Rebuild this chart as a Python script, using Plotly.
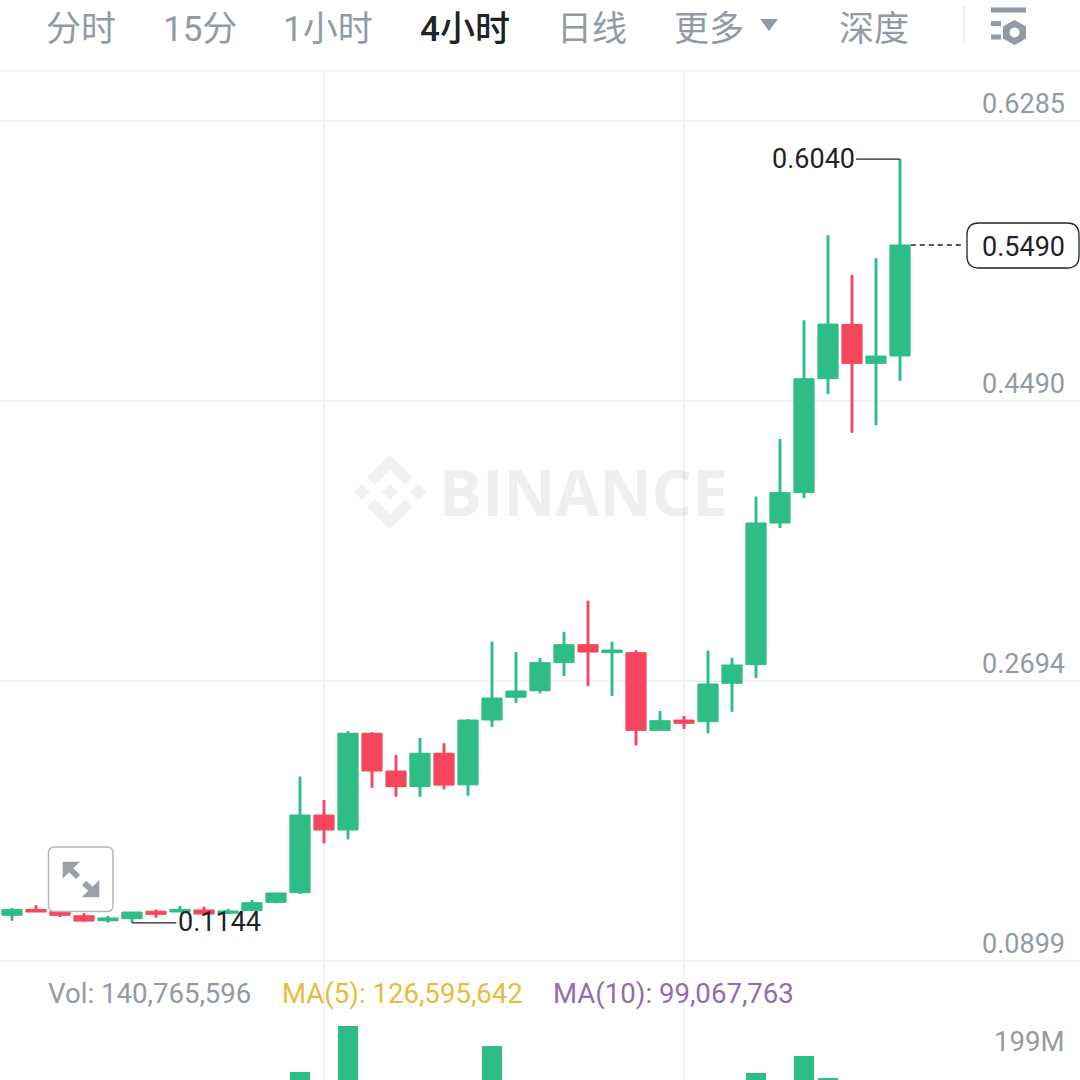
import plotly.graph_objects as go

# ---- data ----
opens = [.1192,.1230,.1218,.1189,.1157,.1170,.1218,.1213,.1226,.1205,.1222,.1275,.1337,.1835,.1739,.2359,.2117,.2017,.2231,.2029,
         .2444,.2590,.2632,.2812,.2927,.2876,.2876,.2378,.2444,.2433,.2680,.2799,.3707,.3902,.4633,.4981,.4731,.4778]
closes = [.1230,.1213,.1192,.1155,.1175,.1213,.1198,.1230,.1200,.1220,.1273,.1335,.1835,.1739,.2359,.2117,.2017,.2231,.2027,.2444,
          .2585,.2630,.2812,.2927,.2880,.2893,.2378,.2440,.2423,.2675,.2797,.3707,.3902,.4633,.4983,.4731,.4778,.5490]
highs = [.1239,.1256,.1218,.1205,.1188,.1213,.1228,.1252,.1247,.1232,.1290,.1335,.2081,.1931,.2372,.2365,.2220,.2329,.2295,.2449,
         .2946,.2880,.2842,.3010,.3209,.2946,.2891,.2502,.2470,.2889,.2842,.3876,.4246,.5007,.5552,.5298,.5405,.6040]
lows = [.1157,.1213,.1181,.1152,.1145,.1144,.1177,.1213,.1188,.1200,.1222,.1269,.1329,.1654,.1679,.2010,.1952,.1952,.2000,.1959,
        .2399,.2555,.2615,.2726,.2662,.2598,.2282,.2378,.2387,.2359,.2497,.2714,.3675,.3868,.4535,.4286,.4334,.4620]
candle_idx = list(range(len(opens)))

vol_idx = [12, 14, 20, 31, 33, 34, 37]
vol_values = [158e6, 219e6, 192e6, 156e6, 179e6, 150e6, 140765596]

price_ticks = [0.0899, 0.2694, 0.4490, 0.6285]
price_labels = ["0.0899", "0.2694", "0.4490", "0.6285"]
grid_idx = [13, 28]
last_price = 0.5490
max_price = 0.6040
min_price = 0.1144
tabs = ["分时", "15分", "1小时", "4小时", "日线", "更多", "深度"]
vol_caption = "Vol: 140,765,596"
ma5_caption = "MA(5): 126,595,642"
ma10_caption = "MA(10): 99,067,763"
vol_axis_label = "199M"

# ---- styling ----
UP, DOWN = "#2EBD85", "#F6465D"
GRID, GRAY, DARK = "#F1F2F3", "#929AA5", "#1E2329"
FONT = "Roboto, 'Noto Sans CJK SC', sans-serif"
W = H = 1080
PANEL_TOP = 71


def px(x):
    return x / W


def py(y):
    return 1 - y / H


def poly(points):
    return "M" + "L".join(f"{px(x):.5f},{py(y):.5f}" for x, y in points) + "Z"


def wicks(want_up):
    xs, ys = [], []
    for i, o, c, h, l in zip(candle_idx, opens, closes, highs, lows):
        if (c >= o) == want_up:
            xs += [i, i, None]
            ys += [l, h, None]
    return xs, ys


fig = go.Figure()
for want_up, colour in ((True, UP), (False, DOWN)):
    wx, wy = wicks(want_up)
    fig.add_trace(go.Scatter(x=wx, y=wy, mode="lines", line=dict(color=colour, width=2.9),
                             hoverinfo="skip", showlegend=False))
fig.add_trace(go.Candlestick(
    x=candle_idx, open=opens, high=highs, low=lows, close=closes,
    increasing=dict(line=dict(color=UP, width=1), fillcolor=UP),
    decreasing=dict(line=dict(color=DOWN, width=1), fillcolor=DOWN),
    showlegend=False, hoverinfo="skip"))
fig.add_trace(go.Bar(x=vol_idx, y=vol_values, yaxis="y2", width=0.86,
                     marker=dict(color=UP, line=dict(width=0)),
                     hoverinfo="skip", showlegend=False))

shapes = []


def rect_path(x0, y0, x1, y1, r):
    return (f"M{px(x0+r):.5f},{py(y0):.5f}L{px(x1-r):.5f},{py(y0):.5f}"
            f"Q{px(x1):.5f},{py(y0):.5f} {px(x1):.5f},{py(y0+r):.5f}"
            f"L{px(x1):.5f},{py(y1-r):.5f}Q{px(x1):.5f},{py(y1):.5f} {px(x1-r):.5f},{py(y1):.5f}"
            f"L{px(x0+r):.5f},{py(y1):.5f}Q{px(x0):.5f},{py(y1):.5f} {px(x0):.5f},{py(y1-r):.5f}"
            f"L{px(x0):.5f},{py(y0+r):.5f}Q{px(x0):.5f},{py(y0):.5f} {px(x0+r):.5f},{py(y0):.5f}Z")


def add_poly(points, colour, layer="above"):
    shapes.append(dict(type="path", xref="paper", yref="paper", path=poly(points),
                       fillcolor=colour, line=dict(width=0), layer=layer))


def add_line(x0, y0, x1, y1, colour, width, layer="above"):
    shapes.append(dict(type="line", xref="paper", yref="paper", x0=px(x0), x1=px(x1), y0=py(y0), y1=py(y1),
                       line=dict(color=colour, width=width), layer=layer))


# header rule, tab separator
add_line(0, 71, 1080, 71, "#F5F5F5", 2.5)
add_line(964, 6, 964, 43, GRID, 3)
# dropdown triangle
add_poly([(760, 19), (778, 19), (769, 31)], GRAY)
# settings icon
add_line(991, 10, 1026, 10, GRAY, 5)
add_line(991, 23.5, 1001, 23.5, GRAY, 5)
add_line(991, 37, 1001, 37, GRAY, 5)
add_poly([(1014.5, 20), (1026, 26.5), (1026, 38.5), (1014.5, 45), (1003, 38.5), (1003, 26.5)], GRAY)
shapes.append(dict(type="circle", xref="paper", yref="paper", x0=px(1009.5), x1=px(1019.5), y0=py(37.5), y1=py(27.5),
                   fillcolor="white", line=dict(width=0)))
# watermark logo
logo_colour = "#F0F1F1"
add_poly([(390, 455), (412.7, 477.3), (405, 485), (390, 470), (375, 485), (367.3, 477.3)], logo_colour, "below")
add_poly([(390, 529), (412.7, 506.7), (405, 499), (390, 514), (375, 499), (367.3, 506.7)], logo_colour, "below")
for cx in (361.7, 390, 418.3):
    add_poly([(cx, 484), (cx + 8, 492), (cx, 500), (cx - 8, 492)], logo_colour, "below")
# expand button
shapes.append(dict(type="path", xref="paper", yref="paper", path=rect_path(48.5, 847, 113, 911.5, 6),
                   fillcolor="rgba(255,255,255,0.75)", line=dict(color="#B4B9C0", width=1.5)))
add_poly([(62.7, 861.7), (80, 861.7), (62.7, 878.5)], "#9AA0A9")
add_poly([(99.3, 897.3), (81.7, 897.3), (99.3, 880)], "#9AA0A9")
add_line(69, 868, 78, 877, "#9AA0A9", 6)
add_line(84, 883, 93, 891, "#9AA0A9", 6)
# current price pill and leader
shapes.append(dict(type="path", xref="paper", yref="paper", path=rect_path(967, 223, 1079, 268, 12),
                   fillcolor="white", line=dict(color=DARK, width=1.3)))
shapes.append(dict(type="line", xref="x", yref="y", x0=37.45, x1=39.7, y0=last_price, y1=last_price,
                   line=dict(color=DARK, width=1.3, dash="5px,4px")))
# high / low leaders
shapes.append(dict(type="line", xref="x", yref="y", x0=35.17, x1=37, y0=max_price, y1=max_price,
                   line=dict(color=DARK, width=1.2)))
shapes.append(dict(type="line", xref="x", yref="y", x0=5, x1=6.85, y0=min_price, y1=min_price,
                   line=dict(color=DARK, width=1.2)))

annotations = []


def text(t, x, y, size, colour=GRAY, anchor="left", weight=400, font=FONT):
    annotations.append(dict(text=t, xref="paper", yref="paper",
                            x=px(x), y=py(y), xanchor=anchor, yanchor="middle", showarrow=False,
                            font=dict(family=font, size=size, color=colour, weight=weight),
                            borderpad=0, borderwidth=0))


tab_x = [81, 200, 328, 465, 592, 709, 874]
for label, cx in zip(tabs, tab_x):
    active = label == "4小时"
    text(label, cx, 29, 35, DARK if active else GRAY, "center", 500 if active else 400)

for value, label, y in zip(price_ticks, price_labels, [944, 664, 384, 104]):
    text(label, 1065, y, 27, GRAY, "right")
text(f"{last_price:.4f}", 1065, 246.5, 27, DARK, "right")
text(f"{max_price:.4f}", 855, 158.5, 27, DARK, "right")
text(f"{min_price:.4f}", 178, 922, 27, DARK, "left")
text(vol_caption, 48, 993, 27.6, GRAY)
text(ma5_caption, 282, 993, 27.6, "#E8BC3A")
text(ma10_caption, 553, 993, 27.6, "#8F6DB3")
text(vol_axis_label, 1065, 1041, 27.6, GRAY, "right")
text("BINANCE", 583.5, 491, 64, "rgba(30,35,41,0.07)", "center", 700, "'Open Sans', sans-serif")

# pixel-calibrated price scale: 0.0899 at y=961, 0.6285 at y=121
per_px = (0.6285 - 0.0899) / 840
y_low = 0.0899 - (1080 - 961) * per_px
y_high = 0.0899 + (961 - PANEL_TOP) * per_px
# volume pane: 147M at the page bottom, 0.75 px per million
vol_low = 147e6
vol_high = vol_low + 80 / 0.75 * 1e6

fig.update_layout(
    width=W, height=H, autosize=False,
    margin=dict(l=0, r=0, t=0, b=0, pad=0),
    paper_bgcolor="white", plot_bgcolor="rgba(0,0,0,0)",
    boxgap=0.16, boxgroupgap=0, bargap=0, showlegend=False,
    xaxis=dict(range=[-0.5, 44.5], domain=[0, 1], rangeslider=dict(visible=False), tickmode="array",
               tickvals=grid_idx, showticklabels=False, showgrid=True, gridcolor=GRID, gridwidth=1.5,
               zeroline=False, showline=False, ticks="", fixedrange=True),
    yaxis=dict(range=[y_low, y_high], domain=[0, 1 - PANEL_TOP / H], tickmode="array",
               tickvals=price_ticks, showticklabels=False, showgrid=True, gridcolor=GRID, gridwidth=1.5,
               zeroline=False, showline=False, ticks="", fixedrange=True),
    yaxis2=dict(range=[vol_low, vol_high], domain=[0, 80 / H], anchor="x", showgrid=False,
                showticklabels=False, zeroline=False, showline=False, ticks="", fixedrange=True),
    shapes=shapes, annotations=annotations,
    font=dict(family=FONT),
)

fig.write_html("out.html", config=dict(displayModeBar=False),
               post_script="document.body.style.margin='0';document.body.style.overflow='hidden';")
